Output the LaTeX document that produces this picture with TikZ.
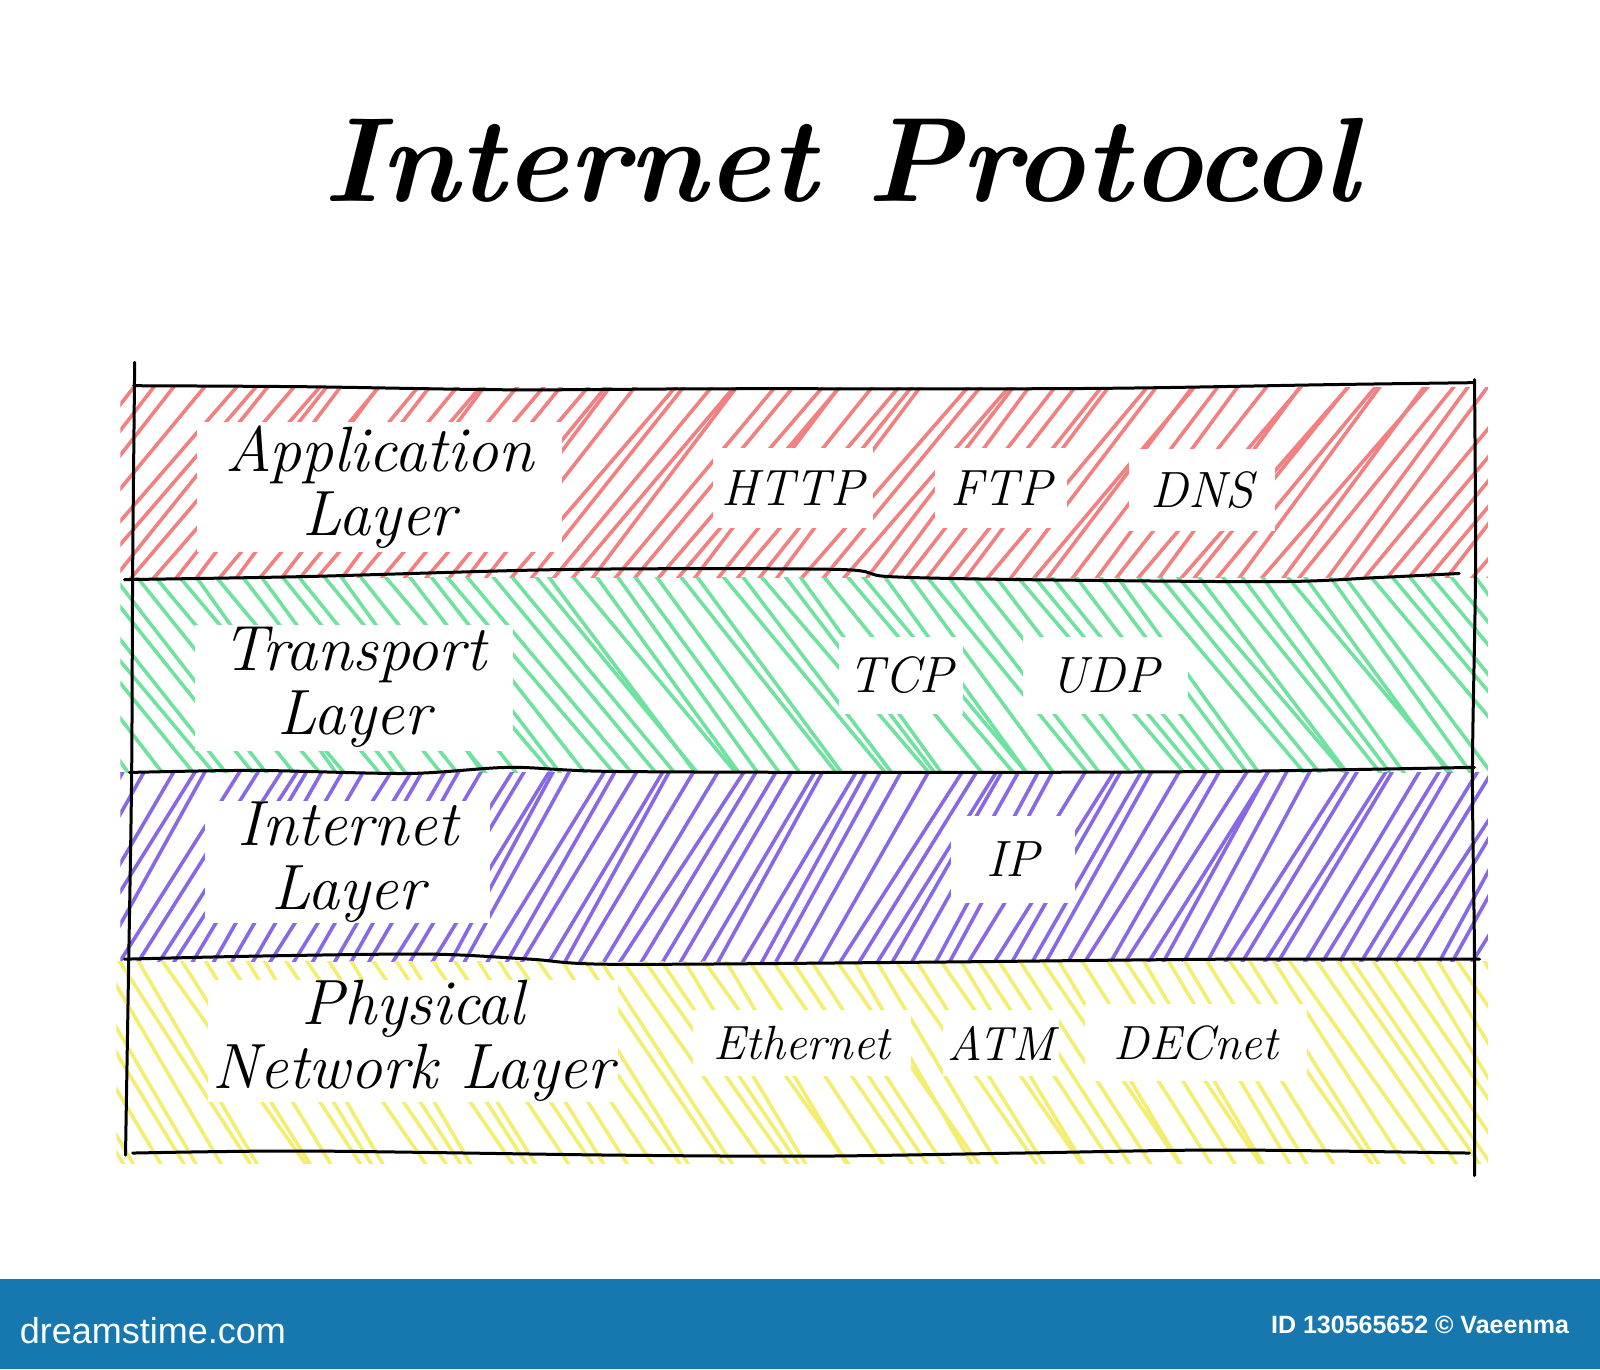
\documentclass[tikz,border=0pt]{standalone}
\usepackage{fontspec}
\newfontfamily\barsans{Liberation Sans}
\definecolor{hred}{HTML}{F28080}
\definecolor{hgreen}{HTML}{70E2A0}
\definecolor{hpurple}{HTML}{8868E6}
\definecolor{hyellow}{HTML}{F4EE70}
\definecolor{barblue}{HTML}{1777AF}
\begin{document}
\begin{tikzpicture}[x=1.0204pt,y=-1.0204pt,
  hatch/.style={line width=3.6pt,line cap=round},
  frame/.style={line width=3pt,line join=round,line cap=round},
  lbl/.style={fill=white,inner sep=0pt,align=center,font=\fontsize{64}{64}\selectfont\itshape},
  proto/.style={fill=white,inner sep=0pt,align=center,font=\fontsize{51}{51}\selectfont\itshape},
  protos/.style={fill=white,inner sep=0pt,align=center,font=\fontsize{48}{48}\selectfont\itshape}]
\useasboundingbox (0,0) rectangle (1568,1342);
\fill[white] (0,0) rectangle (1568,1342);
\pgfmathsetseed{11}
% red band
\begin{scope}
\clip (118,380) rectangle (1458,566);
\foreach \i in {0,...,76}{
 \pgfmathsetmacro\xa{-60+\i*20.5+rand*4}
 \pgfmathsetmacro\xb{\xa+160+rand*15}
 \draw[hatch,hred] (\xa,572) -- (\xb,374);
}
\end{scope}
% green band
\begin{scope}
\clip (118,566) rectangle (1458,757);
\foreach \i in {0,...,76}{
 \pgfmathsetmacro\xa{-60+\i*20.5+rand*4}
 \pgfmathsetmacro\xb{\xa+165+rand*15}
 \draw[hatch,hgreen] (\xa,556) -- (\xb,766);
}
\end{scope}
% purple band
\begin{scope}
\clip (118,757) rectangle (1458,942);
\foreach \i in {0,...,80}{
 \pgfmathsetmacro\xa{-20+\i*19+rand*4}
 \pgfmathsetmacro\xb{\xa+118+rand*12}
 \draw[hatch,hpurple] (\xa,948) -- (\xb,750);
}
\end{scope}
% yellow band
\begin{scope}
\clip (114,942) rectangle (1458,1140);
\foreach \i in {0,...,76}{
 \pgfmathsetmacro\xa{-30+\i*20.5+rand*4}
 \pgfmathsetmacro\xb{\xa+137+rand*14}
 \draw[hatch,hyellow] (\xa,934) -- (\xb,1146);
}
\end{scope}
% frame lines
\draw[frame] plot[smooth] coordinates {(131,378) (300,379) (500,382) (700,381) (1000,381) (1130,380) (1300,377) (1445,375)};
\draw[frame] plot[smooth] coordinates {(122,568) (300,565) (560,558) (820,558) (870,565) (1000,568) (1250,570) (1350,566) (1430,562)};
\draw[frame] plot[smooth] coordinates {(127,757) (250,755) (400,758) (500,752) (600,756) (900,757) (1200,756) (1445,752)};
\draw[frame] plot[smooth] coordinates {(122,940) (250,937) (420,935) (520,940) (600,945) (900,943) (1200,940) (1450,940)};
\draw[frame] plot[smooth] coordinates {(130,1130) (300,1128) (600,1132) (800,1133) (1000,1130) (1200,1127) (1440,1130)};
\draw[frame] plot[smooth] coordinates {(132,355) (130,560) (129,760) (126,950) (123,1132)};
\draw[frame] plot[smooth] coordinates {(1445,372) (1446,560) (1443,755) (1445,940) (1445,1152)};
% title
\node (title) at (824,157) {\fontsize{120}{120}\selectfont\bfseries\itshape Internet Protocol};
% labels
\node[lbl,minimum width=365pt,minimum height=130pt] (app) at (372,477) {Application\\Layer};
\node[proto,minimum width=160pt,minimum height=80pt] (http) at (777,478) {HTTP};
\node[proto,minimum width=132pt,minimum height=80pt] (ftp) at (981,478) {FTP};
\node[proto,minimum width=146pt,minimum height=82pt] (dns) at (1178,480) {DNS};
\node[lbl,minimum width=318pt,minimum height=126pt] (tra) at (347,674) {Transport\\Layer};
\node[proto,minimum width=124pt,minimum height=77pt] (tcp) at (883,662) {TCP};
\node[proto,minimum width=165pt,minimum height=77pt] (udp) at (1083,662) {UDP};
\node[lbl,minimum width=285pt,minimum height=122pt] (inl) at (341,845) {Internet\\Layer};
\node[proto,minimum width=124pt,minimum height=87pt] (ip) at (993,842) {IP};
\node[lbl,minimum width=410pt,minimum height=122pt] (phy) at (405,1020) {Physical\\Network Layer};
\node[protos,minimum width=218pt,minimum height=66pt] (eth) at (786,1022) {Ethernet};
\node[protos,minimum width=116pt,minimum height=66pt] (atm) at (981,1022) {ATM};
\node[protos,minimum width=222pt,minimum height=77pt] (dec) at (1172,1022) {DECnet};
% bottom bar
\fill[barblue] (0,1253) rectangle (1568,1342);
\node[anchor=west,text=white,font=\barsans\fontsize{36}{36}\selectfont] (brand) at (16,1304) {dreamstime.com};
\node[anchor=east,text=white,font=\barsans\bfseries\fontsize{25}{25}\selectfont] (credit) at (1541,1298) {ID 130565652 © Vaeenma};
\end{tikzpicture}
\end{document}
